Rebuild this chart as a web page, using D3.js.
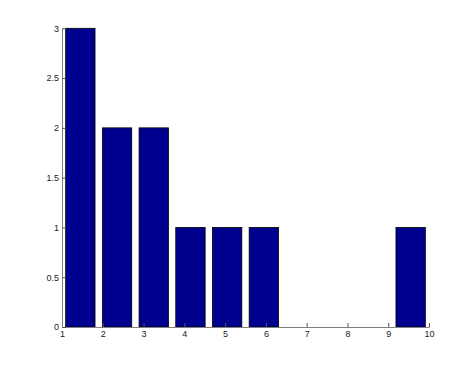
<!DOCTYPE html>
<html lang="en">
<head>
    <meta charset="utf-8">
    <title>Histogram</title>
    <script type="text/javascript" src="https://cdn.jsdelivr.net/npm/d3@7"></script>
    <style type="text/css">
        body { margin: 0; background: #fff; }
        .tick text { font-family: "Liberation Sans", Arial, sans-serif; font-size: 9px; fill: #222; }
    </style>
</head>
<body>
    <script type="text/javascript">

        //Data: bin centres and counts
        var binCenters = [1.45, 2.35, 3.25, 4.15, 5.05, 5.95, 6.85, 7.75, 8.65, 9.55];
        var counts = [3, 2, 2, 1, 1, 1, 0, 0, 0, 1];
        var xTicks = [1, 2, 3, 4, 5, 6, 7, 8, 9, 10];
        var yTicks = [0, 0.5, 1, 1.5, 2, 2.5, 3];
        var binWidth = 0.9;

        //Width and height
        var w = 474;
        var h = 367;

        var x = d3.scaleLinear().domain([1, 10]).range([62, 429]);
        var y = d3.scaleLinear().domain([0, 3]).range([327, 28.3]);

        var svg = d3.select("body")
            .append("svg")
            .attr("width", w)
            .attr("height", h);

        //Pair centres with counts, keep only non-empty bins
        var bins = binCenters.map(function (c, i) { return { center: c, count: counts[i] }; })
            .filter(function (d) { return d.count > 0; });

        //Bars
        var bw = 0.8 * binWidth;
        svg.selectAll("rect")
            .data(bins)
            .enter()
            .append("rect")
            .attr("x", function (d) { return x(d.center - bw / 2); })
            .attr("width", function () { return x(1 + bw) - x(1); })
            .attr("y", function (d) { return y(d.count); })
            .attr("height", function (d) { return y(0) - y(d.count); })
            .style("fill", "#00008f")
            .style("stroke", "#000")
            .style("stroke-width", "0.8");

        //Axes
        var xAxis = d3.axisBottom(x)
            .tickValues(xTicks)
            .tickSizeInner(-4)
            .tickSizeOuter(0)
            .tickPadding(3);

        var yAxis = d3.axisLeft(y)
            .tickValues(yTicks)
            .tickFormat(d3.format("~g"))
            .tickSizeInner(-4)
            .tickSizeOuter(0)
            .tickPadding(3);

        var gx = svg.append("g")
            .attr("transform", "translate(0," + y(0) + ")")
            .call(xAxis);

        var gy = svg.append("g")
            .attr("transform", "translate(" + x(1) + ",0)")
            .call(yAxis);

        [gx, gy].forEach(function (g) {
            g.select(".domain").attr("stroke", "#808080");
            g.selectAll(".tick line").attr("stroke", "#555");
        });
        gx.selectAll(".tick text").attr("dy", "0.8em");

    </script>
</body>
</html>
